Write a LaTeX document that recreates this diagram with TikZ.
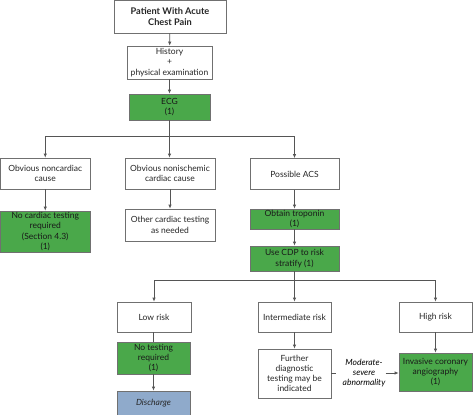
\documentclass[tikz,border=0pt]{standalone}
\usepackage{fontspec}
\setmainfont{Lato}
\usetikzlibrary{arrows.meta}
\definecolor{boxgreen}{HTML}{4AA84A}
\definecolor{boxblue}{HTML}{8FAACB}
\definecolor{linegray}{HTML}{555555}
\definecolor{bordergray}{HTML}{707070}
\begin{document}
\begin{tikzpicture}[x=1pt,y=-1pt,
  font=\fontsize{8.5}{10.2}\selectfont,
  box/.style={draw=bordergray,line width=0.7pt,fill=white,align=center,inner sep=1pt,text=black!85},
  gbox/.style={box,fill=boxgreen,text=black!90},
  bbox/.style={box,fill=boxblue},
  conn/.style={draw=linegray,line width=0.7pt},
  arr/.style={conn,-{Latex[length=4pt,width=3.5pt]}},
  lbl/.style={align=center,inner sep=0pt,font=\fontsize{8.5}{10.2}\selectfont\itshape}
]
\useasboundingbox (0,0) rectangle (474,415);
% boxes
\node[box,minimum width=112pt,minimum height=32.5pt,line width=0.9pt,font=\fontsize{9.2}{10.7}\selectfont\bfseries] (top) at (170,16.75) {Patient With Acute\\Chest Pain};
\node[box,minimum width=85pt,minimum height=33pt] (hist) at (169.5,62.5) {History\\+\\physical examination};
\node[gbox,minimum width=81pt,minimum height=26pt] (ecg) at (169.5,107) {ECG\\(1)};
\node[box,minimum width=89.5pt,minimum height=31pt] (nonc) at (45.25,173.5) {Obvious noncardiac\\cause};
\node[box,minimum width=90pt,minimum height=31pt] (nonis) at (170,173.5) {Obvious nonischemic\\cardiac cause};
\node[box,minimum width=89pt,minimum height=31pt] (acs) at (294.5,174) {Possible ACS};
\node[gbox,minimum width=89.5pt,minimum height=41pt] (nocard) at (45.25,231.5) {No cardiac testing\\required\\(Section 4.3)\\(1)};
\node[box,minimum width=90pt,minimum height=32pt] (other) at (170,225) {Other cardiac testing\\as needed};
\node[gbox,minimum width=89pt,minimum height=20pt] (trop) at (294.5,219) {Obtain troponin\\(1)};
\node[gbox,minimum width=89pt,minimum height=25pt] (cdp) at (294.5,258.5) {Use CDP to risk\\stratify (1)};
\node[box,minimum width=74pt,minimum height=30pt] (low) at (154,317) {Low risk};
\node[box,minimum width=73pt,minimum height=30pt] (inter) at (294.5,317) {Intermediate risk};
\node[box,minimum width=73pt,minimum height=30pt] (high) at (435.5,317) {High risk};
\node[gbox,minimum width=73pt,minimum height=32pt] (notest) at (153.5,358) {No testing\\required\\(1)};
\node[bbox,minimum width=73pt,minimum height=24pt,font=\fontsize{8.5}{10.2}\selectfont\itshape] (dis) at (153.5,403) {Discharge};
\node[box,minimum width=73pt,minimum height=49pt] (fur) at (294.5,373.5) {Further\\diagnostic\\testing may be\\indicated};
\node[gbox,minimum width=73pt,minimum height=38pt] (inv) at (435.5,372) {Invasive coronary\\angiography\\(1)};
\node[lbl] (mod) at (364,373) {Moderate-\\severe\\abnormality};
% split coordinates
\coordinate (s1) at (169.5,136);
\coordinate (s1l) at (45.25,136);
\coordinate (s1r) at (294.5,136);
\coordinate (s2) at (294.5,280);
\coordinate (s2l) at (154,280);
\coordinate (s2r) at (435.5,280);
% connectors
\draw[arr] (top) -- (hist);
\draw[arr] (hist) -- (ecg);
\draw[conn] (ecg.south) -- (s1);
\draw[conn] (s1l) -- (s1r);
\draw[arr] (s1l) -- (nonc.north);
\draw[arr] (s1) -- (nonis.north -| s1);
\draw[arr] (s1r) -- (acs.north);
\draw[arr] (nonc) -- (nocard);
\draw[arr] (nonis) -- (other);
\draw[arr] (acs) -- (trop);
\draw[arr] (trop) -- (cdp);
\draw[conn] (cdp.south) -- (s2);
\draw[conn] (s2l) -- (s2r);
\draw[arr] (s2l) -- (low.north);
\draw[arr] (s2) -- (inter.north);
\draw[arr] (s2r) -- (high.north);
\draw[conn] (low.south -| notest) -- (notest.north);
\draw[arr] (notest) -- (dis);
\draw[arr] (inter) -- (fur);
\draw[arr] (high) -- (inv);
\draw[conn] (fur.east |- mod) -- ++(5,0);
\draw[arr] (mod.east |- 0,373) -- (inv.west |- 0,373);
\end{tikzpicture}
\end{document}
